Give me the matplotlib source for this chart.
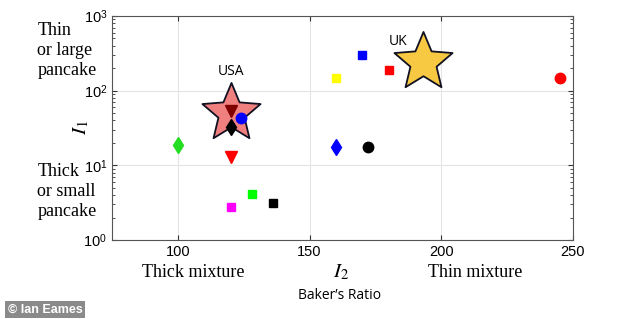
import matplotlib
matplotlib.use("Agg")
import matplotlib.pyplot as plt
from matplotlib.path import Path

plt.rcParams['mathtext.fontset'] = 'custom'
plt.rcParams['mathtext.rm'] = 'Liberation Sans'
plt.rcParams['mathtext.it'] = 'Liberation Serif:italic'

# baker's ratio (x) vs pancake size (y)
square_x = [120, 128, 136, 160, 170, 180]
square_y = [2.8, 4.1, 3.1, 150, 300, 190]
square_c = ['#ff00ff', '#00ff00', 'black', '#ffff00', 'blue', 'red']

circle_x = [124, 172, 245]
circle_y = [43, 17.5, 150]
circle_c = ['blue', 'black', 'red']

diamond_x = [100, 120, 160]
diamond_y = [18.5, 33, 17.5]
diamond_c = ['#22dd22', 'black', 'blue']

tri_x = [120, 120]
tri_y = [54, 12.8]
tri_c = ['#800000', 'red']

star_x = [120, 193]
star_y = [51, 240]
star_c = ['#f08080', '#f7c842']
star_names = ['USA', 'UK']
label_x = [120, 183.5]
label_y = [178, 460]

top_lines = ['Thin', 'or large', 'pancake']
bottom_lines = ['Thick', 'or small', 'pancake']

fig = plt.figure(figsize=(6.34, 3.19), dpi=100)
ax = fig.add_axes([0.1767, 0.2476, 0.727, 0.7022])

ax.set_yscale('log')
ax.set_xlim(75, 250)
ax.set_ylim(1, 1000)
ax.set_xticks([100, 150, 200, 250])
ax.set_yticks([1, 10, 100, 1000])
ax.set_yticklabels([r'$10^0$', r'$10^1$', r'$10^2$', r'$10^3$'])
ax.grid(True, which='major', color='#e4e4e4', lw=0.8)
ax.set_axisbelow(True)
ax.tick_params(which='both', direction='in', top=True, right=True, labelsize=10.5, colors='#333333')
ax.tick_params(labelcolor='black')
for lbl in ax.get_xticklabels():
    lbl.set_fontfamily('Liberation Sans')
for s in ax.spines.values():
    s.set_color('#555555')

fat_star = Path.unit_regular_star(5, 0.45)
for x, y, c in zip(star_x, star_y, star_c):
    ax.plot(x, y, marker=fat_star, ms=44, mfc=c, mec='#111122', mew=1.3, ls='none', zorder=3)
for x, y, n in zip(label_x, label_y, star_names):
    ax.text(x, y, n, ha='center', va='center', fontsize=10, family='Open Sans')

for x, y, c in zip(square_x, square_y, square_c):
    ax.plot(x, y, marker='s', ms=6, color=c, ls='none', zorder=4)
for x, y, c in zip(tri_x, tri_y, tri_c):
    ax.plot(x, y, marker='v', ms=8, color=c, ls='none', zorder=4)
for x, y, c in zip(diamond_x, diamond_y, diamond_c):
    ax.plot(x, y, marker='d', ms=8, color=c, ls='none', zorder=4)
for x, y, c in zip(circle_x, circle_y, circle_c):
    ax.plot(x, y, marker='o', ms=7.5, color=c, ls='none', zorder=5)

ax.set_ylabel(r'$I_1$', fontsize=15, math_fontfamily='stix')
ax.yaxis.set_label_coords(-0.045, 0.5)
ax.set_xlabel(r'$I_2$', fontsize=15, math_fontfamily='stix')
ax.xaxis.set_label_coords(0.497, -0.1)

serif = 'Liberation Serif'
for i, s in enumerate(top_lines):
    fig.text(0.059, 0.890 - i * 0.0627, s, fontsize=13, family=serif, va='baseline')
for i, s in enumerate(bottom_lines):
    fig.text(0.059, 0.448 - i * 0.0627, s, fontsize=13, family=serif, va='baseline')
fig.text(0.305, 0.145, 'Thick mixture', fontsize=13, family=serif, ha='center', va='center')
fig.text(0.75, 0.145, 'Thin mixture', fontsize=13, family=serif, ha='center', va='center')
fig.text(0.536, 0.075, "Baker\u2019s Ratio", fontsize=10, family='Open Sans', ha='center', va='center')

fig.text(0.012, 0.03, '\u00a9 Ian Eames', fontsize=9, weight='bold', color='white',
         family='Liberation Sans', va='center',
         bbox=dict(boxstyle='square,pad=0.2', fc='#8a8a8a', ec='none'))

fig.savefig('out.png', dpi=100)
